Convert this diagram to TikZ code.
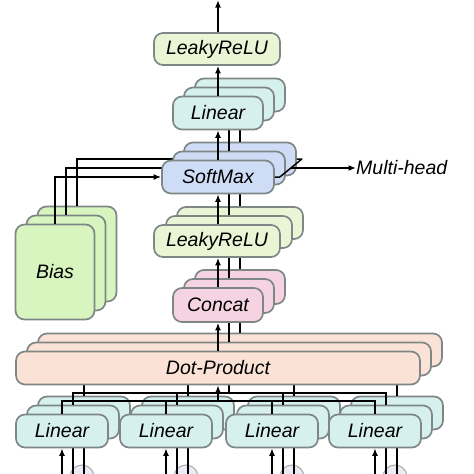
\documentclass[tikz,border=0pt]{standalone}
\usepackage{fontspec}
\setmainfont{Liberation Sans}
\usetikzlibrary{arrows.meta}
\definecolor{bordc}{HTML}{7E8686}
\definecolor{lrc}{HTML}{EAF5D6}
\definecolor{linc}{HTML}{D6F0EE}
\definecolor{smc}{HTML}{CEDDF5}
\definecolor{biasc}{HTML}{D8F5BF}
\definecolor{ccc}{HTML}{F6D3E1}
\definecolor{dpc}{HTML}{FAE3D6}
\definecolor{circc}{HTML}{ECEAF4}
\newcommand\labfont{\fontsize{19.5}{22}\selectfont\itshape}
\begin{document}
\begin{tikzpicture}[x=1pt,y=-1pt,
  box/.style={draw=bordc, line width=1.7pt, rounded corners=9pt, inner sep=0pt, font=\labfont, text=black},
  lrS/.style={box, fill=lrc, minimum width=126pt, minimum height=32pt},
  linS/.style={box, fill=linc, minimum width=90pt, minimum height=33pt},
  linbS/.style={box, fill=linc, minimum width=92pt, minimum height=33pt},
  smS/.style={box, fill=smc, minimum width=112pt, minimum height=33pt},
  ccS/.style={box, fill=ccc, minimum width=90pt, minimum height=34pt},
  dpS/.style={box, fill=dpc, minimum width=404pt, minimum height=33pt},
  biasS/.style={box, fill=biasc, minimum width=79pt, minimum height=95pt},
  circS/.style={circle, draw=bordc!70, line width=1pt, fill=circc, minimum size=24pt, inner sep=0pt},
  conn/.style={line width=1.5pt, draw=black},
  arr/.style={conn, -{Latex[length=7.5pt,width=6pt]}},
  lbl/.style={inner sep=0pt, font=\labfont, text=black}]
\clip (0,0) rectangle (474,474);
\fill[white] (0,0) rectangle (474,474);

% input circles
\node[circS] (c1) at (82,477) {};
\node[circS] (c2) at (186,477) {};
\node[circS] (c3) at (292,477) {};
\node[circS] (c4) at (395,477) {};
\coordinate (busM) at (0,393);
\coordinate (busF) at (0,401);

% ---------- back layer ----------
\node[linS] (l5B) at (240,95) {};
\node[smS] (smB) at (240,159) {};
\node[lrS] (l1B) at (240,223) {};
\node[ccS] (ccB) at (240,287) {};
\node[dpS] (dpB) at (240,350) {};
\node[biasS] (bB) at (77,254) {};
\node[linbS] (q1B) at (84,413) {};
\node[linbS] (q2B) at (188,413) {};
\node[linbS] (q3B) at (294,413) {};
\node[linbS] (q4B) at (397,413) {};
\coordinate (i1b) at (84,474);
\coordinate (i2b) at (188,474);
\coordinate (i3b) at (294,474);
\coordinate (i4b) at (397,474);

\draw[conn] (dpB.north) -- (ccB.south);
\draw[conn] (ccB.north) -- (l1B.south);
\draw[conn] (l1B.north) -- (smB.south);
\draw[conn] (smB.north) -- (l5B.south);
\draw[conn] (bB.north) |- (smB.west);
\foreach \q/\i in {q1B/i1b,q2B/i2b,q3B/i3b,q4B/i4b}{
  \draw[conn] (\q.north) -- (\q.north |- dpB.south);
  \draw[conn] (\i) -- (\q.south);
}

% ---------- middle layer ----------
\node[linS] (l5M) at (229,104) {};
\node[smS] (smM) at (229,168) {};
\node[lrS] (l1M) at (229,232) {};
\node[ccS] (ccM) at (229,296) {};
\node[dpS] (dpM) at (229,359) {};
\node[biasS] (bM) at (66,263) {};
\node[linbS] (q1M) at (73,422) {};
\node[linbS] (q2M) at (177,422) {};
\node[linbS] (q3M) at (283,422) {};
\node[linbS] (q4M) at (386,422) {};
\coordinate (i1m) at (73,474);
\coordinate (i2m) at (177,474);
\coordinate (i3m) at (283,474);
\coordinate (i4m) at (386,474);

\draw[conn] (dpM.north) -- (ccM.south);
\draw[conn] (ccM.north) -- (l1M.south);
\draw[conn] (l1M.north) -- (smM.south);
\draw[conn] (smM.north) -- (l5M.south);
\draw[conn] (bM.north) |- (smM.west);
\draw[conn] (q1M.north) |- (busM -| q4M.north) -- (q4M.north);
\draw[conn] (q2M.north) -- (q2M.north |- busM);
\draw[conn] (q3M.north) -- (q3M.north |- busM);
\draw[conn] (busM -| dpM.south) -- (dpM.south);
\foreach \q/\i in {q1M/i1m,q2M/i2m,q3M/i3m,q4M/i4m}{
  \draw[conn] (\i) -- (\q.south);
}

% ---------- front layer ----------
\node[lrS] (l2) at (217,49) {LeakyReLU};
\node[linS] (l5F) at (218,113) {Linear};
\node[smS] (smF) at (218,177) {SoftMax};
\node[lrS] (l1F) at (217,241) {LeakyReLU};
\node[ccS] (ccF) at (218,305) {Concat};
\node[dpS] (dpF) at (218,368) {Dot-Product};
\node[biasS] (bF) at (55,272) {Bias};
\node[linbS] (q1F) at (62,431) {Linear};
\node[linbS] (q2F) at (166,431) {Linear};
\node[linbS] (q3F) at (272,431) {Linear};
\node[linbS] (q4F) at (375,431) {Linear};
\coordinate (i1f) at (62,474);
\coordinate (i2f) at (166,474);
\coordinate (i3f) at (272,474);
\coordinate (i4f) at (375,474);
\coordinate (out) at (218,0);
\node[lbl, anchor=west] (mh) at (356,168) {Multi-head};

\draw[arr] (l2.north -| out) -- (out);
\draw[arr] (l5F.north) -- (l5F.north |- l2.south);
\draw[arr] (smF.north) -- (l5F.south);
\draw[arr] (l1F.north -| smF.south) -- (smF.south);
\draw[arr] (ccF.north) -- (ccF.north |- l1F.south);
\draw[arr] (dpF.north) -- (ccF.south);
\draw[arr] (bF.north) |- (smF.west);
\draw[conn] (q1F.north) |- (busF -| q4F.north) -- (q4F.north);
\draw[conn] (q2F.north) -- (q2F.north |- busF);
\draw[conn] (q3F.north) -- (q3F.north |- busF);
\draw[arr] (busF -| dpF.south) -- (dpF.south);
\foreach \q/\i in {q1F/i1f,q2F/i2f,q3F/i3f,q4F/i4f}{
  \draw[arr] (\i) -- (\q.south);
}
% multi-head merge
\draw[conn, line join=round] (smB.east) -- ++(5,0) -- coordinate[pos=0.5] (mhs) ++(-22,18) -- (smF.east);
\draw[arr] (mhs) -- (mh.west);
\end{tikzpicture}
\end{document}
